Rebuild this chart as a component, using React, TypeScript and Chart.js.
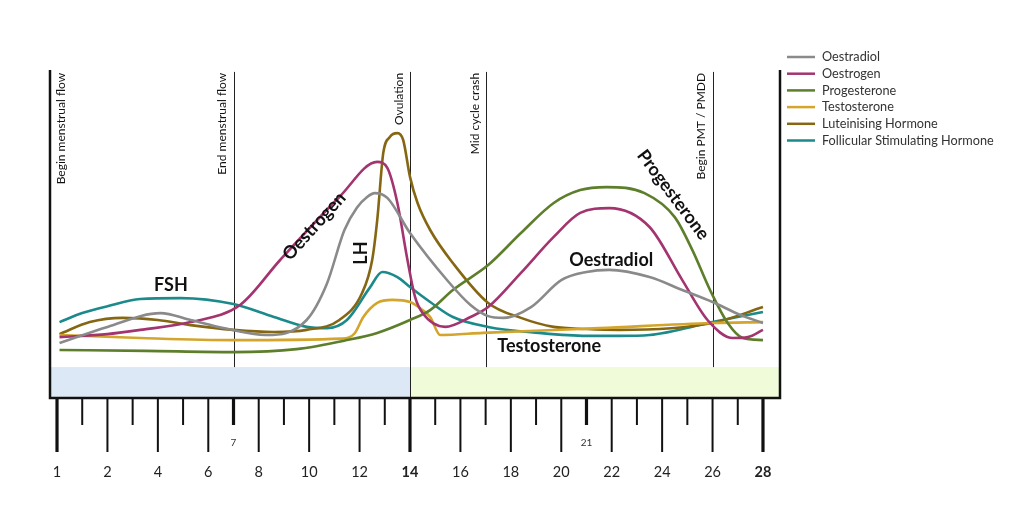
import React, { useEffect, useRef } from "react";
import { Chart, registerables } from "chart.js";

Chart.register(...registerables);

// ---- Data (x = cycle day position on ruler, y = relative hormone level) ----
const oestradiolDays = [0.1, 2, 4.1, 5.3, 6.6, 8.3, 9.9, 10.7, 11.4, 11.9, 12.3, 12.6, 13.1, 14, 15.5, 16.4, 17.1, 17.7, 18.8, 20, 21, 21.9, 23.5, 24.8, 26, 27.1, 28];
const oestradiolLevels = [8.3, 13.7, 18.3, 16, 13.3, 11, 16, 28, 46, 53.5, 57, 58.3, 56.7, 45, 29, 21, 17.3, 16.7, 20.3, 29.3, 32, 32.7, 30.3, 26, 22, 17.7, 15];

const oestrogenDays = [0.1, 2, 3.3, 5.3, 7.26, 8.85, 11.2, 12.7, 13.1, 13.5, 13.9, 14.2, 14.5, 15.4, 16.4, 17.1, 18.4, 19.7, 20.75, 21.9, 23.5, 24.8, 25.8, 26.8, 27.4, 28];
const oestrogenLevels = [10.3, 11.3, 12.7, 15.3, 21, 36, 57, 68.7, 66.7, 55, 36, 23.7, 18.3, 13.7, 17, 20.3, 31.7, 43.7, 51.7, 53.3, 47, 29.3, 16, 10, 10.3, 12.7];

const progesteroneDays = [0.1, 3.5, 7, 9.5, 11.5, 12.7, 14, 14.8, 15.7, 17.1, 18.4, 19.7, 20.75, 21.8, 23.3, 24.5, 25.2, 25.9, 26.6, 27.2, 28];
const progesteroneLevels = [6, 5.7, 5.3, 6.3, 9.3, 11.7, 16, 19.3, 26, 34.3, 45, 55, 59.3, 60.3, 58.3, 50.3, 39.3, 26, 15, 10, 9.3];

const testosteroneDays = [0.1, 3.3, 7, 11.3, 11.8, 12.15, 12.7, 13.3, 14, 14.5, 14.8, 15.2, 16.9, 21.5, 26, 28];
const testosteroneLevels = [11, 10, 9.3, 9.8, 11.5, 17, 21.7, 22.7, 22, 19.3, 17, 11, 11.7, 13.3, 15, 15.3];

const lhDays = [0.1, 1.3, 2.6, 4, 5.3, 7, 8.6, 9.9, 11.2, 12.1, 12.5, 12.7, 12.94, 13.2, 13.5, 13.73, 14, 14.3, 14.8, 15.7, 17.1, 18.4, 19.7, 21, 22.3, 26, 28];
const lhLevels = [11.3, 15.3, 16.7, 16, 14.3, 12.7, 12, 12.7, 16, 25, 36, 49.3, 71.7, 77, 78.3, 76, 63.7, 55, 46, 35, 21.7, 16.7, 13.7, 13, 12.7, 15, 20.3];

const fshDays = [0.1, 1, 2, 3.3, 4.9, 7, 8.6, 9.9, 10.7, 11.5, 12.4, 12.9, 13.5, 14, 14.8, 15.7, 17.1, 19.1, 21, 22.3, 23.5, 26, 28];
const fshLevels = [15.3, 18.3, 20.6, 23, 23.3, 21.3, 17, 13.7, 13.3, 16, 26.7, 32, 30.3, 27, 22, 17, 13.7, 11.7, 10.7, 10.7, 11, 15.3, 18.7];

const seriesNames = ["Oestradiol", "Oestrogen", "Progesterone", "Testosterone", "Luteinising Hormone", "Follicular Stimulating Hormone"];

// Phase markers
const markerDays = [0, 7, 14, 17, 26];
const markerLabels = ["Begin menstrual flow", "End menstrual flow", "Ovulation", "Mid cycle crash", "Begin PMT / PMDD"];

// Phases (bands)
const phaseStarts = [-0.28, 14];
const phaseEnds = [14, 28.68];

// Ruler
const rulerDays = Array.from({ length: 29 }, (_, i) => i);
const tickLabelDays = [0, 2, 4, 6, 8, 10, 12, 14, 16, 18, 20, 22, 24, 26, 28];
const tickLabels = ["1", "2", "4", "6", "8", "10", "12", "14", "16", "18", "20", "22", "24", "26", "28"];
const weekDays = [7, 21];
const weekLabels = ["7", "21"];

// Curve annotations
const noteTexts = ["FSH", "Oestrogen", "LH", "Progesterone", "Oestradiol", "Testosterone"];
const noteDays = [4.52, 10.2, 12.06, 24.44, 21.98, 19.52];
const noteLevels = [27.7, 47.3, 38.3, 57.7, 36, 7.3];
const noteAngles = [0, -48, -90, 53, 0, 0];

// ---- Styles ----
const colors = ["#8a8a8a", "#a3346f", "#5d7e2b", "#d3a52c", "#856713", "#1c8a8a"];
const FONT = "Lato, 'Open Sans', sans-serif";

const pts = (xs: number[], ys: number[]) => xs.map((x, i) => ({ x, y: ys[i] }));

const decorPlugin = {
  id: "decor",
  beforeDatasetsDraw(chart: any) {
    const { ctx, chartArea, scales } = chart;
    const xs = scales.x;
    const ys = scales.y;
    const bandTop = ys.getPixelForValue(0.3);
    const bottom = chartArea.bottom;
    const lineTop = ys.getPixelForValue(98.7);
    ctx.save();
    // bands
    const bandColors = ["#dde8f6", "#effbd9"];
    phaseStarts.forEach((s, i) => {
      const x0 = xs.getPixelForValue(s);
      const x1 = xs.getPixelForValue(phaseEnds[i]);
      ctx.fillStyle = bandColors[i];
      ctx.fillRect(x0, bandTop, x1 - x0, bottom - bandTop);
    });
    // marker lines
    ctx.strokeStyle = "#222";
    ctx.lineWidth = 1;
    markerDays.forEach((d) => {
      if (d === 0) return;
      const x = Math.round(xs.getPixelForValue(d)) + 0.5;
      ctx.beginPath();
      ctx.moveTo(x, lineTop);
      ctx.lineTo(x, d === 14 ? bottom : bandTop);
      ctx.stroke();
    });
    // frame
    ctx.strokeStyle = "#111";
    ctx.lineWidth = 2.5;
    ctx.beginPath();
    ctx.moveTo(chartArea.left, chartArea.top + 2);
    ctx.lineTo(chartArea.left, bottom);
    ctx.lineTo(chartArea.right, bottom);
    ctx.lineTo(chartArea.right, chartArea.top + 2);
    ctx.stroke();
    // marker labels
    ctx.fillStyle = "#111";
    ctx.font = `12px ${FONT}`;
    ctx.textAlign = "right";
    ctx.textBaseline = "middle";
    markerDays.forEach((d, i) => {
      const px = xs.getPixelForValue(d);
      const cx = d === 0 ? px + 4 : px - 11;
      ctx.save();
      ctx.translate(cx, lineTop + 1);
      ctx.rotate(-Math.PI / 2);
      ctx.fillText(markerLabels[i], 0, 0);
      ctx.restore();
    });
    // ruler
    rulerDays.forEach((d) => {
      const x = xs.getPixelForValue(d);
      const even = d % 2 === 0;
      const heavy = d % 7 === 0;
      ctx.strokeStyle = "#111";
      ctx.lineWidth = heavy ? 3.2 : 2;
      ctx.beginPath();
      ctx.moveTo(x, bottom);
      ctx.lineTo(x, bottom + (even ? 54 : 27));
      ctx.stroke();
    });
    ctx.textAlign = "center";
    ctx.textBaseline = "middle";
    tickLabelDays.forEach((d, i) => {
      const x = xs.getPixelForValue(d);
      const bold = d === 14 || d === 28;
      ctx.fillStyle = "#222";
      ctx.font = `${bold ? "bold " : ""}14.5px ${FONT}`;
      ctx.fillText(tickLabels[i], x, bottom + 74);
    });
    weekDays.forEach((d, i) => {
      const x = xs.getPixelForValue(d);
      ctx.fillStyle = "#333";
      ctx.font = `10px ${FONT}`;
      ctx.fillText(weekLabels[i], x, bottom + 45);
    });
    ctx.restore();
  },
  afterDatasetsDraw(chart: any) {
    const { ctx, scales } = chart;
    const xs = scales.x;
    const ys = scales.y;
    ctx.save();
    ctx.fillStyle = "#111";
    ctx.font = `bold 18px ${FONT}`;
    ctx.textAlign = "center";
    ctx.textBaseline = "middle";
    noteTexts.forEach((t, i) => {
      ctx.save();
      ctx.translate(xs.getPixelForValue(noteDays[i]), ys.getPixelForValue(noteLevels[i]));
      ctx.rotate((noteAngles[i] * Math.PI) / 180);
      ctx.fillText(t, 0, 0);
      ctx.restore();
    });
    // legend
    ctx.font = `12.7px ${FONT}`;
    ctx.textAlign = "left";
    chart.data.datasets.forEach((ds: any, i: number) => {
      const y = 57 + i * 16.7;
      ctx.strokeStyle = ds.borderColor;
      ctx.lineWidth = 2.5;
      ctx.beginPath();
      ctx.moveTo(787, y);
      ctx.lineTo(815, y);
      ctx.stroke();
      ctx.fillStyle = "#333";
      ctx.fillText(ds.label, 822, y);
    });
    ctx.restore();
  },
};

export default function App() {
  const ref = useRef<HTMLCanvasElement>(null);
  useEffect(() => {
    document.body.style.margin = "0";
    const seriesX = [oestradiolDays, oestrogenDays, progesteroneDays, testosteroneDays, lhDays, fshDays];
    const seriesY = [oestradiolLevels, oestrogenLevels, progesteroneLevels, testosteroneLevels, lhLevels, fshLevels];
    const chart = new Chart(ref.current!, {
      type: "line",
      data: {
        datasets: seriesNames.map((name, i) => ({
          label: name,
          data: pts(seriesX[i], seriesY[i]),
          borderColor: colors[i],
          backgroundColor: colors[i],
          borderWidth: 2.6,
          pointRadius: 0,
          fill: false,
          cubicInterpolationMode: "monotone" as const,
        })),
      },
      options: {
        responsive: false,
        animation: false,
        events: [],
        layout: { padding: { left: 50, right: 244, top: 68, bottom: 110 } },
        scales: {
          x: { type: "linear", min: -0.278, max: 28.675, display: false },
          y: { type: "linear", min: -10, max: 100, display: false },
        },
        plugins: { legend: { display: false }, tooltip: { enabled: false } },
      },
      plugins: [decorPlugin],
    });
    return () => chart.destroy();
  }, []);
  return (
    <div style={{ width: 1024, height: 508, background: "#fff" }}>
      <canvas ref={ref} width={1024} height={508} style={{ display: "block" }} />
    </div>
  );
}
